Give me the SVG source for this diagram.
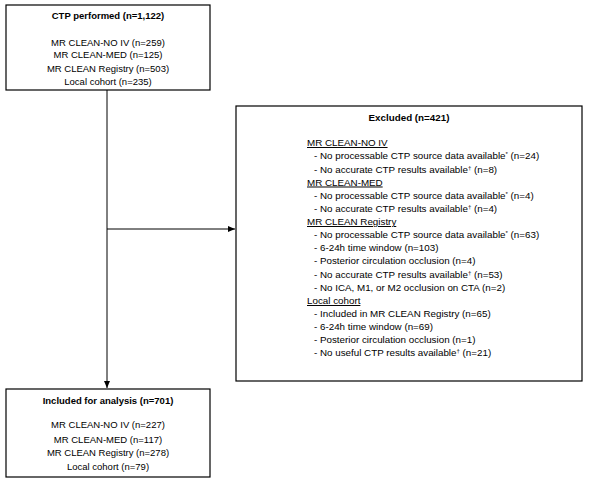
<svg xmlns="http://www.w3.org/2000/svg" width="590" height="482" viewBox="0 0 590 482">
<style>
.box{fill:#fff;stroke:#000;stroke-width:1.2}
text{font-family:"Liberation Sans",Arial,sans-serif;font-size:9.5px;fill:#000}
.x text{font-size:9.8px}
.c{text-anchor:middle}
.b{font-weight:bold}
.u{text-decoration:underline}
.sup{font-size:6px}
.ln{stroke:#000;stroke-width:1;fill:none}
</style>
<defs>
<marker id="ah" markerWidth="8" markerHeight="8" refX="7" refY="4" orient="auto" markerUnits="userSpaceOnUse">
<path d="M0,1 L7,4 L0,7 Z" fill="#000"/>
</marker>
</defs>
<g id="connectors">
<line class="ln" x1="107" y1="90" x2="107" y2="388" marker-end="url(#ah)"/>
<line class="ln" x1="107" y1="229" x2="235" y2="229" marker-end="url(#ah)"/>
</g>
<g id="performed">
<rect class="box" x="6" y="5" width="204" height="85"/>
<text class="c b" x="108" y="19">CTP performed (n=1,122)</text>
<text class="c" x="108" y="45.5">MR CLEAN-NO IV (n=259)</text>
<text class="c" x="108" y="58">MR CLEAN-MED (n=125)</text>
<text class="c" x="108" y="71.5">MR CLEAN Registry (n=503)</text>
<text class="c" x="108" y="84.5">Local cohort (n=235)</text>
</g>
<g id="excluded" class="x">
<rect class="box" x="236" y="106" width="346" height="275"/>
<text class="c b" x="409" y="120.5">Excluded (n=421)</text>
<text class="u" x="307" y="146">MR CLEAN-NO IV</text>
<text x="314" y="159">- No processable CTP source data available<tspan class="sup" dy="-3">*</tspan><tspan dy="3"> (n=24)</tspan></text>
<text x="314" y="172.5">- No accurate CTP results available<tspan class="sup" dy="-3">†</tspan><tspan dy="3"> (n=8)</tspan></text>
<text class="u" x="307" y="185.5">MR CLEAN-MED</text>
<text x="314" y="199">- No processable CTP source data available<tspan class="sup" dy="-3">*</tspan><tspan dy="3"> (n=4)</tspan></text>
<text x="314" y="212">- No accurate CTP results available<tspan class="sup" dy="-3">†</tspan><tspan dy="3"> (n=4)</tspan></text>
<text class="u" x="307" y="225">MR CLEAN Registry</text>
<text x="314" y="238">- No processable CTP source data available<tspan class="sup" dy="-3">*</tspan><tspan dy="3"> (n=63)</tspan></text>
<text x="314" y="251">- 6-24h time window (n=103)</text>
<text x="314" y="264">- Posterior circulation occlusion (n=4)</text>
<text x="314" y="277.5">- No accurate CTP results available<tspan class="sup" dy="-3">†</tspan><tspan dy="3"> (n=53)</tspan></text>
<text x="314" y="291">- No ICA, M1, or M2 occlusion on CTA (n=2)</text>
<text class="u" x="307" y="304">Local cohort</text>
<text x="314" y="317">- Included in MR CLEAN Registry (n=65)</text>
<text x="314" y="330">- 6-24h time window (n=69)</text>
<text x="314" y="343">- Posterior circulation occlusion (n=1)</text>
<text x="314" y="356">- No useful CTP results available<tspan class="sup" dy="-3">†</tspan><tspan dy="3"> (n=21)</tspan></text>
</g>
<g id="included">
<rect class="box" x="6" y="389" width="204" height="88"/>
<text class="c b" x="108" y="403.5">Included for analysis (n=701)</text>
<text class="c" x="108" y="428">MR CLEAN-NO IV (n=227)</text>
<text class="c" x="108" y="442.5">MR CLEAN-MED (n=117)</text>
<text class="c" x="108" y="456">MR CLEAN Registry (n=278)</text>
<text class="c" x="108" y="469.5">Local cohort (n=79)</text>
</g>
</svg>
